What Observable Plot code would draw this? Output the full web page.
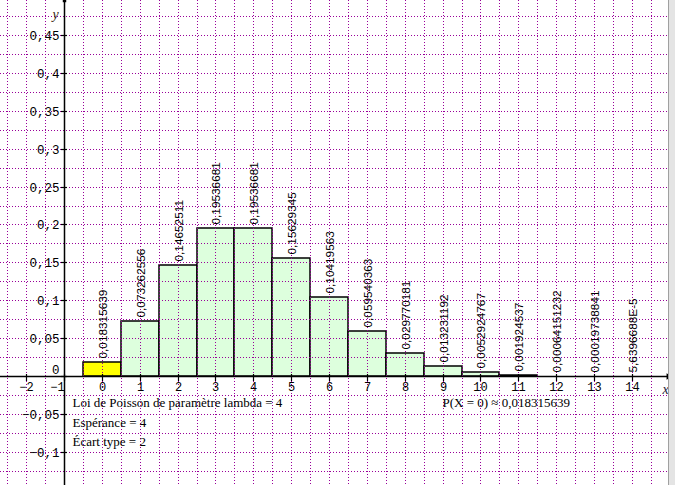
<!DOCTYPE html>
<html>
<head>
<meta charset="utf-8">
<script src="https://cdn.jsdelivr.net/npm/d3@7"></script>
<script src="https://cdn.jsdelivr.net/npm/@observablehq/plot@0.6"></script>
<style>
  html, body { margin: 0; padding: 0; background: #fff; overflow: hidden; }
  #wrap { position: relative; width: 675px; height: 485px; }
  #strip { position: absolute; left: 668px; top: 0; width: 7px; height: 485px; background: #e4e4e4; border-left: 1px solid #a0a0a0; box-sizing: border-box; }
</style>
</head>
<body>
<div id="wrap"><div id="chart"></div><div id="strip"></div></div>
<script>
// ---- data ----
const ks = [0, 1, 2, 3, 4, 5, 6, 7, 8, 9, 10, 11, 12, 13, 14];
const probs = [0.018315639, 0.073262556, 0.14652511, 0.19536681, 0.19536681, 0.15629345,
  0.10419563, 0.059540363, 0.029770181, 0.013231192, 0.0052924767, 0.001924537,
  0.00064151232, 0.00019738841, 0.000056396688];
const barLabels = ["0,018315639", "0,073262556", "0,14652511", "0,19536681", "0,19536681",
  "0,15629345", "0,10419563", "0,059540363", "0,029770181", "0,013231192", "0,0052924767",
  "0,001924537", "0,00064151232", "0,00019738841", "5,6396688E-5"];
const xTicks = [-2, -1, 0, 1, 2, 3, 4, 5, 6, 7, 8, 9, 10, 11, 12, 13, 14];
const xTickLabels = ["−2", "−1", "0", "1", "2", "3", "4", "5", "6", "7", "8", "9", "10", "11", "12", "13", "14"];
const yTicks = [-0.1, -0.05, 0, 0.05, 0.1, 0.15, 0.2, 0.25, 0.3, 0.35, 0.4, 0.45];
const yTickLabels = ["−0,1", "−0,05", "0", "0,05", "0,1", "0,15", "0,2", "0,25", "0,3", "0,35", "0,4", "0,45"];
const infoLines = ["Loi de Poisson de paramètre lambda = 4", "Espérance = 4", "Écart type = 2"];
const probText = "P(X = 0) ≈ 0,018315639";

const bars = ks.map((k, i) => ({k, p: probs[i], label: barLabels[i]}));
const xt = xTicks.map((v, i) => ({v, label: xTickLabels[i]}));
const yt = yTicks.map((v, i) => ({v, label: yTickLabels[i]}));

const xDom = [-2.690, 15.138];
const yDom = [-0.1438, 0.4962];
const xEnd = 14.95;
const mono = "'Liberation Mono', 'DejaVu Sans Mono', monospace";
const serif = "'Liberation Serif', 'DejaVu Serif', serif";
const sans = "'Liberation Sans', Arial, sans-serif";
const gridColor = "#990099";

const chart = Plot.plot({
  width: 675,
  height: 485,
  margin: 0,
  style: {background: "#fff", overflow: "visible"},
  x: {domain: xDom, range: [0, 675], axis: null, round: true},
  y: {domain: yDom, range: [485, 0], axis: null, round: true},
  marks: [
    Plot.rect(bars, {
      x1: d => d.k - 0.5, x2: d => d.k + 0.5, y1: 0, y2: "p",
      fill: d => d.k === 0 ? "#ffff00" : "#ddffdd",
      stroke: "#000", strokeWidth: 1.5
    }),
    // dotted grid
    Plot.ruleX(d3.range(-2.5, 15.01, 0.5).filter(v => v !== -1), {
      x: d => d, stroke: gridColor, strokeDasharray: "1,2", strokeWidth: 1
    }),
    Plot.ruleY(d3.range(-0.125, 0.4801, 0.025).filter(v => Math.abs(v) > 1e-9), {
      y: d => d, stroke: gridColor, strokeDasharray: "1,2", strokeWidth: 1
    }),
    // axes
    Plot.ruleX([-1], {x: d => d, stroke: "#000", strokeWidth: 1.5}),
    Plot.ruleY([0], {y: d => d, x1: xDom[0], x2: xEnd, stroke: "#000", strokeWidth: 1.5}),
    Plot.dot([xEnd], {x: d => d, y: 0, symbol: "triangle2", rotate: 90, r: 3.2, fill: "#000", stroke: null}),
    Plot.dot([yDom[1]], {x: -1, y: d => d, symbol: "square2", r: 2.2, fill: "#000", stroke: null}),
    // ticks
    Plot.ruleX(xt, {x: "v", y1: 0.003, y2: -0.007, stroke: "#000", strokeWidth: 1.2}),
    Plot.ruleY(yt, {y: "v", x1: -1.08, x2: -0.92, stroke: "#000", strokeWidth: 1.2}),
    // tick labels
    Plot.text(xt.filter(d => d.v !== -1), {
      x: "v", y: 0, text: "label", dy: 11,
      fontFamily: mono, fontSize: 12, fill: "#000"
    }),
    Plot.text(xt.filter(d => d.v === -1), {
      x: "v", y: 0, text: "label", dy: 11, dx: -7,
      fontFamily: mono, fontSize: 12, fill: "#000"
    }),
    Plot.text(yt.filter(d => d.v !== 0), {
      x: -1, y: "v", text: "label", textAnchor: "end", dx: -5,
      fontFamily: mono, fontSize: 12.5, fill: "#000"
    }),
    Plot.text(yt.filter(d => d.v === 0), {
      x: -1, y: "v", text: "label", textAnchor: "end", dx: -5, dy: -7,
      fontFamily: mono, fontSize: 12.5, fill: "#000"
    }),
    // bar value labels
    Plot.text(bars, {
      x: "k", y: "p", text: "label", rotate: -90, textAnchor: "start", dy: -4, dx: 1,
      fontFamily: sans, fontSize: 11.8, fill: "#000"
    }),
    // axis names
    Plot.text(["x"], {x: 14.95, y: 0, text: d => d, dy: 13, dx: -3, fontFamily: serif, fontStyle: "italic", fontSize: 14, fill: "#1a1a3a"}),
    Plot.text(["y"], {x: -1, y: yDom[1], text: d => d, dy: 14, dx: -9, fontFamily: serif, fontStyle: "italic", fontSize: 14, fill: "#3a2a10"}),
    // info texts
    Plot.text(infoLines, {
      x: -0.78, y: (d, i) => -0.0396 - i * 0.0258, text: d => d, textAnchor: "start",
      fontFamily: serif, fontSize: 13, fill: "#000", lineAnchor: "bottom"
    }),
    Plot.text([probText], {
      x: 8.99, y: -0.0396, text: d => d, textAnchor: "start",
      fontFamily: serif, fontSize: 13, fill: "#000", lineAnchor: "bottom"
    })
  ]
});
document.getElementById("chart").appendChild(chart);
</script>
</body>
</html>
